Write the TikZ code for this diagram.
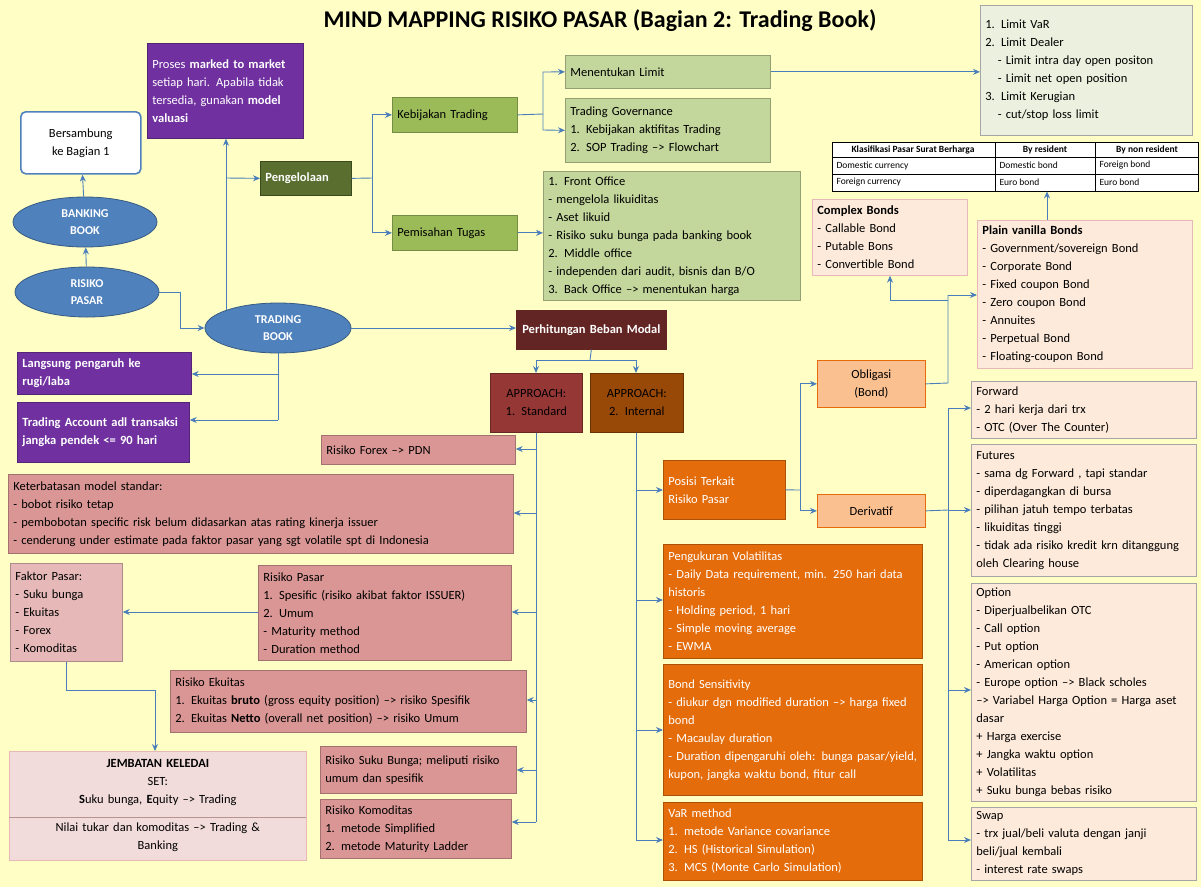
\documentclass[tikz,border=0pt]{standalone}
\usepackage{fontspec}
\setmainfont{Carlito}
\usetikzlibrary{arrows.meta}
\definecolor{bgc}{HTML}{FFFFC5}
\definecolor{ln}{HTML}{4A7EBB}
\definecolor{lgreen}{HTML}{C3D69B}
\definecolor{mgreen}{HTML}{9BBB59}
\definecolor{dgreen}{HTML}{4F6228}
\definecolor{purp}{HTML}{7030A0}
\definecolor{blu}{HTML}{4F81BD}
\definecolor{dred}{HTML}{632523}
\definecolor{red1}{HTML}{953735}
\definecolor{brn}{HTML}{984807}
\definecolor{pnk}{HTML}{D99694}
\definecolor{lpnk}{HTML}{E6B9B8}
\definecolor{vlpnk}{HTML}{F2DCDB}
\definecolor{org}{HTML}{E46C0A}
\definecolor{lorg}{HTML}{FAC090}
\definecolor{peach}{HTML}{FDEADA}
\definecolor{gray1}{HTML}{EBF1DE}
\tikzset{
 base/.style={draw=#1!75!black,line width=0.7pt,inner xsep=5pt,inner ysep=2pt,align=left,font=\fontsize{12.5}{18}\selectfont},
 gbox/.style={base=lgreen,fill=lgreen,text=black},
 mgbox/.style={base=mgreen,fill=mgreen,text=black},
 dgbox/.style={base=dgreen,fill=dgreen!85!mgreen,text=white,font=\bfseries\fontsize{12.5}{18}\selectfont},
 pbox/.style={base=purp,fill=purp,text=white,font=\bfseries\fontsize{12.5}{18}\selectfont},
 ppbox/.style={base=purp,fill=purp,text=white},
 pkbox/.style={base=pnk,fill=pnk,text=black},
 lpkbox/.style={base=lpnk,fill=lpnk,text=black},
 obox/.style={base=org,fill=org,text=white},
 lobox/.style={base=lorg,fill=lorg,text=black},
 pcbox/.style={draw=gray!70,line width=0.7pt,fill=peach,inner xsep=5pt,inner ysep=2pt,align=left,font=\fontsize{12.5}{18}\selectfont},
 ell/.style={ellipse,draw=blu!70!black,fill=blu,text=white,font=\bfseries\fontsize{12}{17}\selectfont,align=center,line width=0.8pt},
 con/.style={draw=ln,line width=0.9pt},
 arr/.style={con,-{Stealth[length=7pt,width=6pt]}},
}
\usetikzlibrary{shapes.geometric}
\newcommand\bx[7]{\pgfmathsetmacro\bw{#4-#2}\pgfmathsetmacro\bh{#5-#3}\pgfmathsetmacro\tw{#4-#2-10}%
\node[#6,anchor=north west,minimum width=\bw pt,minimum height=\bh pt,text width=\tw pt] (#1) at (#2,#3) {#7};}
\begin{document}
\begin{tikzpicture}[x=1pt,y=-1pt]
\fill[bgc] (0,0) rectangle (1201,887);
\useasboundingbox (0,0) rectangle (1201,887);
\node[font=\bfseries\fontsize{24}{28}\selectfont] (title) at (600,21) {MIND MAPPING RISIKO PASAR (Bagian 2: Trading Book)};

\bx{lim}{980}{5}{1192}{135}{pcbox,fill=gray1}{1. Limit VaR\\2. Limit Dealer\\\quad- Limit intra day open positon\\\quad- Limit net open position\\3. Limit Kerugian\\\quad- cut/stop loss limit}
% table
\node[draw=black,fill=white,minimum width=366pt,minimum height=49pt,anchor=north west,inner sep=0] (tab) at (832,142) {};
\draw (832,157)--(1198,157) (832,174)--(1198,174) (995,142)--(995,191) (1095,142)--(1095,191);
\begin{scope}[font=\fontsize{9.5}{11}\selectfont]
\node (t1) at (913,149.5) {\bfseries Klasifikasi Pasar Surat Berharga};
\node (t2) at (1045,149.5) {\bfseries By resident};
\node (t3) at (1147,149.5) {\bfseries By non resident};
\node[anchor=west] (t4) at (833,165.5) {Domestic currency};
\node[anchor=west] (t5) at (996,165.5) {Domestic bond};
\node[anchor=west] (t6) at (1096,165.5) {Foreign bond};
\node[anchor=west] (t7) at (833,182.5) {Foreign currency};
\node[anchor=west] (t8) at (996,182.5) {Euro bond};
\node[anchor=west] (t9) at (1096,182.5) {Euro bond};
\end{scope}

\bx{ml}{565}{55}{770}{88}{gbox}{Menentukan Limit}
\bx{tg}{565}{98}{770}{162}{gbox}{Trading Governance\\1. Kebijakan aktifitas Trading\\2. SOP Trading --> Flowchart}
\bx{kt}{392}{97}{517}{132}{mgbox}{Kebijakan Trading}
\bx{pm}{147}{43}{303}{138}{ppbox}{Proses \textbf{marked to market} setiap hari. Apabila tidak tersedia, gunakan \textbf{model valuasi}}
\node[draw=blu,line width=1.6pt,fill=white,rounded corners=5pt,minimum width=120pt,minimum height=62pt,align=center,font=\fontsize{12.5}{18}\selectfont,anchor=north west] (bs) at (20,111) {Bersambung\\ke Bagian 1};
\node[ell,minimum width=144pt,minimum height=50pt] (bb) at (85,222) {BANKING\\BOOK};
\node[ell,minimum width=144pt,minimum height=50pt] (rp) at (87,292) {RISIKO\\PASAR};
\bx{pg}{260}{161}{351}{195}{dgbox}{Pengelolaan}
\bx{pt}{392}{215}{517}{250}{mgbox}{Pemisahan Tugas}
\bx{fo}{543}{171}{800}{300}{gbox}{1. Front Office\\- mengelola likuiditas\\- Aset likuid\\- Risiko suku bunga pada banking book\\2. Middle office\\- independen dari audit, bisnis dan B/O\\3. Back Office --> menentukan harga}
\bx{cb}{812}{199}{967}{275}{pcbox,draw=lpnk}{\textbf{Complex Bonds}\\- Callable Bond\\- Putable Bons\\- Convertible Bond}
\bx{pv}{977}{220}{1192}{368}{pcbox,draw=lpnk}{\textbf{Plain vanilla Bonds}\\- Government/sovereign Bond\\- Corporate Bond\\- Fixed coupon Bond\\- Zero coupon Bond\\- Annuites\\- Perpetual Bond\\- Floating-coupon Bond}
\node[ell,minimum width=146pt,minimum height=50pt] (tb) at (278,328) {TRADING\\BOOK};
\bx{ph}{516}{310}{666}{349}{pbox,fill=dred,draw=dred,align=center}{Perhitungan Beban Modal}
\bx{lg}{17}{352}{191}{394}{pbox}{Langsung pengaruh ke rugi/laba}
\bx{ta}{17}{402}{189}{462}{pbox}{Trading Account adl transaksi jangka pendek <= 90 hari}
\bx{a1}{490}{373}{582}{432}{pkbox,fill=red1,draw=red1!70!black,align=center}{APPROACH:\\1. Standard}
\bx{a2}{590}{373}{683}{432}{pkbox,fill=brn,draw=brn!70!black,align=center}{APPROACH:\\2. Internal}
\bx{ob}{817}{360}{925}{407}{lobox,draw=org,align=center}{Obligasi\\(Bond)}
\bx{fw}{971}{381}{1196}{438}{pcbox}{Forward\\- 2 hari kerja dari trx\\- OTC (Over The Counter)}
\bx{rf}{321}{435}{515}{464}{pkbox}{Risiko Forex --> PDN}
\bx{po}{663}{460}{785}{519}{obox}{Posisi Terkait\\Risiko Pasar}
\bx{dv}{817}{494}{925}{527}{lobox,draw=org,align=center}{Derivatif}
\bx{fu}{971}{444}{1196}{576}{pcbox}{Futures\\- sama dg Forward , tapi standar\\- diperdagangkan di bursa\\- pilihan jatuh tempo terbatas\\- likuiditas tinggi\\- tidak ada risiko kredit krn ditanggung oleh Clearing house}
\bx{kb}{8}{474}{513}{553}{pkbox}{Keterbatasan model standar:\\- bobot risiko tetap\\- pembobotan specific risk belum didasarkan atas rating kinerja  issuer\\- cenderung under estimate pada faktor pasar yang sgt volatile spt di Indonesia}
\bx{pk}{663}{544}{922}{658}{obox}{Pengukuran Volatilitas\\- Daily Data requirement, min. 250 hari data historis\\- Holding period, 1 hari\\- Simple moving average\\- EWMA}
\bx{fp}{10}{563}{122}{661}{lpkbox}{Faktor Pasar:\\- Suku bunga\\- Ekuitas\\- Forex\\- Komoditas}
\bx{rpb}{258}{565}{511}{660}{pkbox}{Risiko Pasar\\1. Spesific (risiko akibat faktor ISSUER)\\2. Umum\\- Maturity method\\- Duration method}
\bx{op}{971}{583}{1196}{801}{pcbox}{Option\\- Diperjualbelikan OTC\\- Call option\\- Put option\\- American option\\- Europe option --> Black scholes\\--> Variabel Harga Option = Harga aset dasar\\+ Harga exercise\\+ Jangka waktu option\\+ Volatilitas\\+ Suku bunga bebas risiko}
\bx{re}{170}{670}{526}{732}{pkbox}{Risiko Ekuitas\\1. Ekuitas \textbf{bruto} (gross equity position) --> risiko Spesifik\\2. Ekuitas \textbf{Netto} (overall net position) --> risiko Umum}
\bx{bsn}{663}{664}{922}{795}{obox}{Bond Sensitivity\\- diukur dgn modified duration --> harga fixed bond\\- Macaulay duration\\- Duration dipengaruhi oleh:  bunga pasar/yield, kupon, jangka waktu bond, fitur call}
\bx{jk}{9}{751}{306}{860}{lpkbox,fill=vlpnk,draw=lpnk,align=center}{\textbf{JEMBATAN KELEDAI}\\SET:\\\textbf{S}uku bunga, \textbf{E}quity --> Trading\\[10pt]Nilai tukar dan komoditas --> Trading \&\\Banking}
\draw[lpnk!80!black] (9,817)--(306,817);
\bx{rs}{320}{746}{516}{793}{pkbox}{Risiko Suku Bunga; meliputi risiko umum dan spesifik}
\bx{rk}{320}{799}{511}{858}{pkbox}{Risiko Komoditas\\1. metode Simplified\\2. metode Maturity Ladder}
\bx{vm}{663}{802}{922}{880}{obox}{VaR method\\1. metode Variance covariance\\2. HS (Historical Simulation)\\3. MCS (Monte Carlo Simulation)}
\bx{sw}{971}{807}{1196}{880}{pcbox}{Swap\\- trx jual/beli valuta dengan janji beli/jual kembali\\- interest rate swaps}

% connectors
\draw[arr] (rp) -- (bb);
\draw[arr] (bb) -- (bs);
\draw[arr] (rp.east) -- (180,292) |- (tb.west);
\draw[arr] (226,310) -- (pm.south-|226,0);
\draw[arr] (226,178) -- (pg.west);
\draw[con] (pg.east) -- (372,178);
\draw[arr] (372,178) |- (kt.west);
\draw[arr] (372,178) |- (pt.west);
\draw[con] (kt.east) -- (543,114);
\draw[arr] (543,114) -- (543,72) -- (ml.west);
\draw[arr] (543,114) -- (543,130) -- (tg.west);
\draw[arr] (pt.east) -- (fo.west|-pt.east);
\draw[arr] (ml.east) -- (lim.west|-ml.east);
\draw[arr] (tb.east) -- (ph.west|-tb.east);
\draw[con] (tb.south) -- (278,420);
\draw[arr] (278,374) -- (lg.east|-278,374);
\draw[arr] (278,420) -- (ta.east|-278,420);
\draw[con] (ph.south) -- (590,360);
\draw[con] (536,360) -- (636,360);
\draw[arr] (536,360) -- (a1.north-|536,0);
\draw[arr] (636,360) -- (a2.north-|636,0);
\draw[con] (a1.south-|536,0) -- (536,822);
\draw[arr] (536,449) -- (rf.east|-536,449);
\draw[arr] (536,513) -- (kb.east|-536,513);
\draw[arr] (536,612) -- (rpb.east|-536,612);
\draw[arr] (536,700) -- (re.east|-536,700);
\draw[arr] (536,770) -- (rs.east|-536,770);
\draw[arr] (536,822) -- (rk.east|-536,822);
\draw[con] (a2.south-|636,0) -- (636,840);
\draw[arr] (636,490) -- (po.west|-636,490);
\draw[arr] (636,600) -- (pk.west|-636,600);
\draw[arr] (636,730) -- (bsn.west|-636,730);
\draw[arr] (636,840) -- (vm.west|-636,840);
\draw[con] (po.east) -- (800,490);
\draw[arr] (800,490) |- (ob.west);
\draw[arr] (800,490) |- (dv.west);
\draw[con] (ob.east) -- (948,383) -- (948,295);
\draw[arr] (948,295) -- (pv.west|-948,295);
\draw[arr] (948,300) -- (890,300) -- (cb.south-|890,0);
\draw[arr] (pv.north-|1047,0) -- (1047,205) -- (tab.south-|1047,0);
\draw[con] (dv.east) -- (948,510);
\draw[con] (948,408) -- (948,840);
\draw[arr] (948,408) -- (fw.west|-948,408);
\draw[arr] (948,510) -- (fu.west|-948,510);
\draw[arr] (948,690) -- (op.west|-948,690);
\draw[arr] (948,840) -- (sw.west|-948,840);
\draw[arr] (rpb.west|-0,612) -- (fp.east|-0,612);
\draw[arr] (fp.south-|66,0) -- (66,690) -- (155,690) -- (jk.north-|155,0);
\end{tikzpicture}
\end{document}
